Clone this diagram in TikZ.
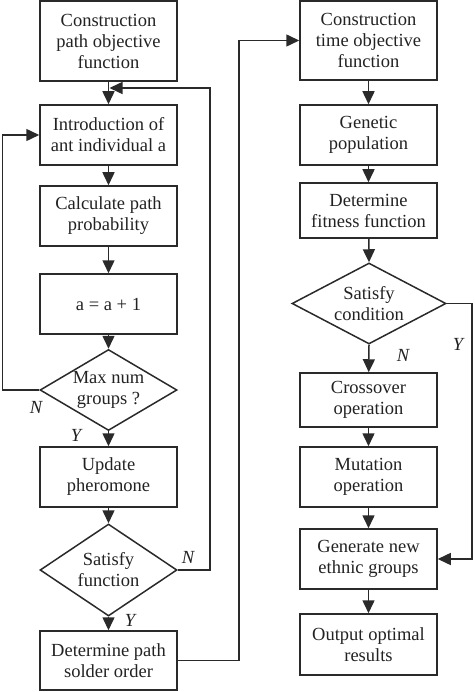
\documentclass[tikz,border=0pt]{standalone}
\usepackage{fontspec}
\setmainfont{Liberation Serif}
\usetikzlibrary{arrows.meta,shapes.geometric,calc}
\definecolor{lc}{HTML}{2A2A2A}
\definecolor{tc}{HTML}{222222}
\begin{document}
\begin{tikzpicture}[x=1pt,y=-1pt,
  txt/.style={font=\fontsize{18.5}{21}\selectfont, text=tc},
  box/.style={txt, draw=lc, line width=1.5pt, minimum width=137pt, inner sep=0pt, align=center},
  dia/.style={draw=lc, line width=1.5pt, diamond, inner sep=0pt, minimum width=137pt, minimum height=81pt},
  dlab/.style={txt, align=center},
  yn/.style={txt, font=\fontsize{18.5}{21}\selectfont\itshape},
  arr/.style={draw=lc, line width=1.5pt, -{Triangle[length=13pt,width=12pt]}},
  ln/.style={draw=lc, line width=1.5pt}]
\useasboundingbox (0,0) rectangle (474,692);
% left column
\node[box, minimum height=80pt] (b1) at (108.5,41) {Construction\\path objective\\function};
\node[box, minimum height=60pt] (b2) at (108.5,135) {Introduction of\\ant individual a};
\node[box, minimum height=60pt] (b3) at (108.5,216) {Calculate path\\probability};
\node[box, minimum height=60pt] (b4) at (108.5,304) {a = a + 1};
\node[dia, label={[dlab]center:Max num\\groups ?}] (d1) at (108.5,390) {};
\node[box, minimum height=60pt] (b5) at (108.5,477) {Update\\pheromone};
\node[dia, minimum height=92pt, label={[dlab]center:Satisfy\\function}] (d2) at (108.5,570) {};
\node[box, minimum height=59pt] (b6) at (108.5,660.5) {Determine path\\solder order};
% right column
\node[box, minimum height=79pt] (r1) at (368.5,40.5) {Construction\\time objective\\function};
\node[box, minimum height=60pt] (r2) at (368.5,135) {Genetic\\population};
\node[box, minimum height=55pt] (r3) at (368.5,210.5) {Determine\\fitness function};
\node[dia, minimum width=154pt, label={[dlab]center:Satisfy\\condition}] (dR) at (369,303.5) {};
\node[box, minimum height=54pt] (r4) at (368.5,400) {Crossover\\operation};
\node[box, minimum height=60pt] (r5) at (368.5,477) {Mutation\\operation};
\node[box, minimum height=60pt] (r6) at (368.5,559) {Generate new\\ethnic groups};
\node[box, minimum height=61pt] (r7) at (368.5,644.5) {Output optimal\\results};
% straight arrows
\draw[arr] (b1) -- (b2);
\draw[arr] (b2) -- (b3);
\draw[arr] (b3) -- (b4);
\draw[arr] (b4) -- (d1.north);
\draw[arr] (d1.south) -- (b5);
\draw[arr] (b5) -- (d2.north);
\draw[arr] (d2.south) -- (b6);
\draw[arr] (r1) -- (r2);
\draw[arr] (r2) -- (r3);
\draw[arr] (r3) -- (dR.north);
\draw[arr] (dR.south) -- (r4);
\draw[arr] (r4) -- (r5);
\draw[arr] (r5) -- (r6);
\draw[arr] (r6) -- (r7);
% loops
\coordinate (c1) at (2.5,390);
\draw[arr] (d1.west) -- (c1) |- (b2.west);
\coordinate (c2) at (210,570);
\coordinate (c3) at (109.5,88);
\draw[arr] (d2.east) -- (c2) |- (c3);
\coordinate (c4) at (239,660.5);
\draw[arr] (b6.east) -- (c4) |- (r1.west);
\coordinate (c5) at (472,303.5);
\draw[arr] (dR.east) -- (c5) |- (r6.east);
% labels
\node[yn] (n1) at (36,407) {N};
\node[yn] (y1) at (76,435) {Y};
\node[yn] (n2) at (188,557) {N};
\node[yn] (y2) at (130,620) {Y};
\node[yn] (n3) at (403,355) {N};
\node[yn] (y3) at (458,344) {Y};
\end{tikzpicture}
\end{document}
